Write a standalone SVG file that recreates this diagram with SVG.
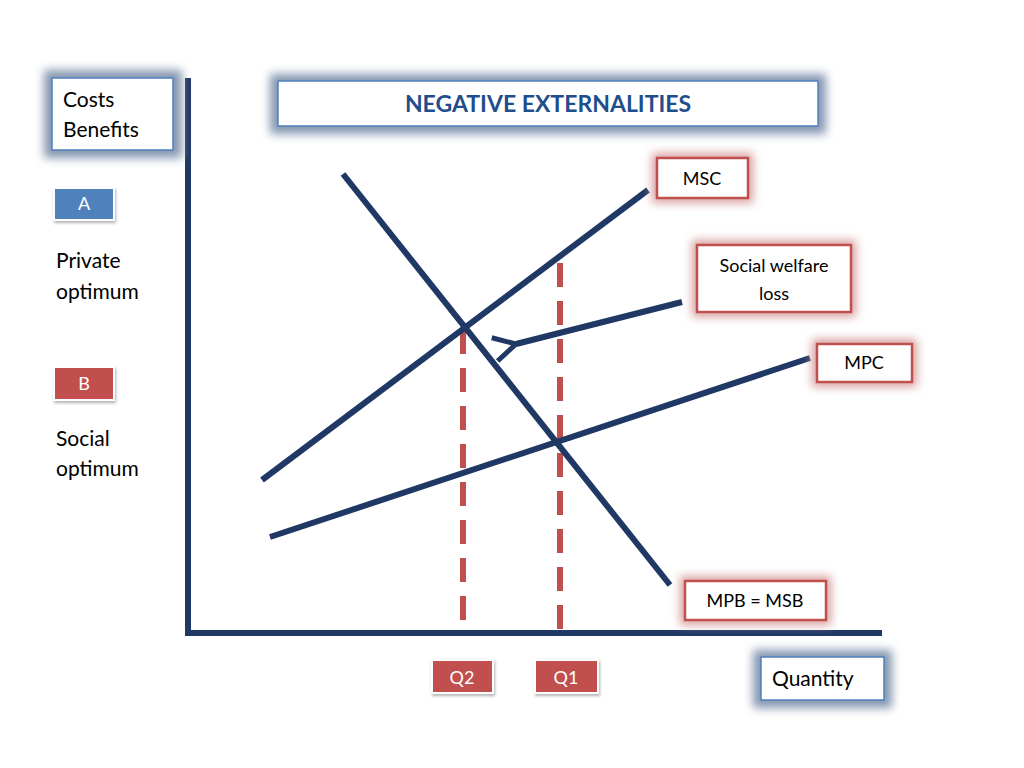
<svg xmlns="http://www.w3.org/2000/svg" width="1024" height="768" viewBox="0 0 1024 768">
<defs>
<filter id="glow" x="-30%" y="-50%" width="160%" height="200%"><feGaussianBlur stdDeviation="5"/></filter>
<filter id="sh" x="-20%" y="-20%" width="140%" height="150%"><feDropShadow dx="1" dy="2" stdDeviation="1.5" flood-color="#000" flood-opacity="0.3"/></filter>
<marker id="ah" viewBox="0 0 32 32" refX="4" refY="16" markerWidth="32" markerHeight="32" markerUnits="userSpaceOnUse" orient="auto"><path d="M26,4 L4,16 L26,28" fill="none" stroke="#1f3864" stroke-width="5" stroke-linejoin="miter"/></marker>
</defs>
<style>
text{font-family:Lato,"Open Sans","Liberation Sans",sans-serif;fill:#000}
.bg{fill:#fff;stroke:#4f81bd;stroke-width:1.5}
.gl{fill:#8496b0;filter:url(#glow)}
.rb{fill:#fff;stroke:#c0504d;stroke-width:2.5}
.rgl{fill:#d9a0a0;filter:url(#glow)}
.ax{stroke:#1f3864;stroke-width:6;fill:none}
.dash{stroke:#c0504d;stroke-width:6;stroke-dasharray:24 14;fill:none}
.t{font-size:21px}
.s{font-size:18px}
</style>
<rect width="1024" height="768" fill="#fff"/>
<g id="connectors">
<line class="dash" x1="463" y1="330" x2="463" y2="626"/>
<line class="dash" x1="560" y1="263" x2="560" y2="630"/>
<line class="ax" x1="188" y1="78" x2="188" y2="633"/>
<line class="ax" x1="185" y1="633" x2="882" y2="633"/>
<line class="ax" x1="262" y1="480" x2="648" y2="190"/>
<line class="ax" x1="343" y1="174" x2="670" y2="585"/>
<line class="ax" x1="270" y1="537" x2="810" y2="358"/>
<line class="ax" x1="682" y1="302" x2="516" y2="344" marker-end="url(#ah)"/>
</g>
<g id="costs"><rect class="gl" x="44" y="70" width="138" height="88"/><rect class="bg" x="52" y="78" width="121" height="72"/><text class="t" x="63" y="107">Costs</text><text class="t" x="63" y="137">Benefits</text></g>
<g id="title"><rect class="gl" x="270" y="74" width="556" height="60"/><rect class="bg" x="278" y="81" width="540" height="45"/><text x="548" y="112" font-size="23" font-weight="bold" text-anchor="middle" style="fill:#1f4e8c">NEGATIVE EXTERNALITIES</text></g>
<g id="A"><rect x="54" y="188" width="60" height="32" fill="#4f81bd" stroke="#fff" stroke-width="2" filter="url(#sh)"/><text class="s" x="84" y="210" text-anchor="middle" style="fill:#fff">A</text></g>
<g id="private"><text class="t" x="56" y="268">Private</text><text class="t" x="56" y="299">optimum</text></g>
<g id="B"><rect x="54" y="367" width="60" height="33" fill="#c0504d" stroke="#fff" stroke-width="2" filter="url(#sh)"/><text class="s" x="84" y="390" text-anchor="middle" style="fill:#fff">B</text></g>
<g id="social"><text class="t" x="56" y="446">Social</text><text class="t" x="56" y="476">optimum</text></g>
<g id="msc"><rect class="rgl" x="652" y="153" width="101" height="50"/><rect class="rb" x="657" y="158" width="91" height="40"/><text class="s" x="702" y="185" text-anchor="middle">MSC</text></g>
<g id="swl"><rect class="rgl" x="692" y="240" width="164" height="77"/><rect class="rb" x="697" y="245" width="154" height="67"/><text class="s" x="774" y="272" text-anchor="middle">Social welfare</text><text class="s" x="774" y="300" text-anchor="middle">loss</text></g>
<g id="mpc"><rect class="rgl" x="812" y="339" width="105" height="48"/><rect class="rb" x="817" y="344" width="95" height="38"/><text class="s" x="864" y="369" text-anchor="middle">MPC</text></g>
<g id="mpb"><rect class="rgl" x="680" y="576" width="151" height="49"/><rect class="rb" x="685" y="581" width="141" height="39"/><text class="s" x="755" y="607" text-anchor="middle">MPB = MSB</text></g>
<g id="Q2"><rect x="432" y="660" width="61" height="33" fill="#c0504d" stroke="#fff" stroke-width="2" filter="url(#sh)"/><text class="s" x="462" y="684" text-anchor="middle" style="fill:#fff">Q2</text></g>
<g id="Q1"><rect x="535" y="660" width="63" height="33" fill="#c0504d" stroke="#fff" stroke-width="2" filter="url(#sh)"/><text class="s" x="566" y="684" text-anchor="middle" style="fill:#fff">Q1</text></g>
<g id="quantity"><rect class="gl" x="753" y="650" width="139" height="58"/><rect class="bg" x="761" y="657" width="123" height="43"/><text class="t" x="772" y="686">Quantity</text></g>
</svg>
